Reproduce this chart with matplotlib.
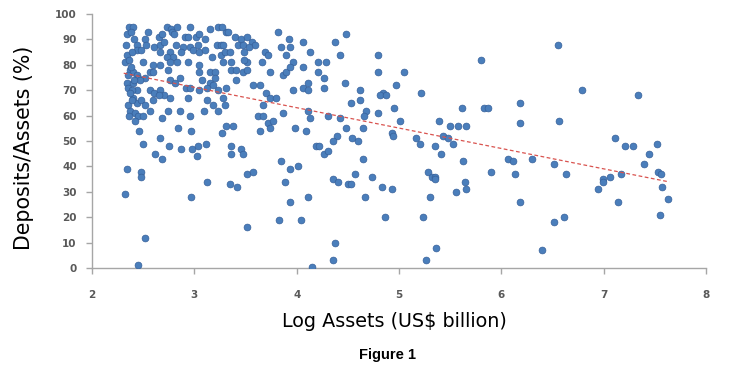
#used to plot graphs
import matplotlib
matplotlib.use('Agg')
import matplotlib.pyplot as plt
import numpy as np

#scatter points, grouped by area of the plot
#log assets (x) and deposits/assets in % (y)
x_small_top = [2.36, 2.40, 2.34, 2.55, 2.73, 2.77, 2.83, 2.96, 3.15, 3.23, 3.31,
               2.65, 2.68, 2.78, 2.80, 2.91, 2.94, 3.02, 3.05, 3.10, 2.52,
               2.33, 2.44, 2.53, 2.61, 2.66, 2.70, 2.82, 2.89, 2.96, 3.04, 3.22, 3.26, 2.44, 2.48,
               2.34, 2.39, 2.66, 2.76, 2.79, 2.87, 2.99, 3.05, 3.10, 2.73, 3.26, 3.17,
               2.32, 2.50, 2.60, 2.66, 2.76, 2.83, 2.94, 3.05, 3.28,
               2.37, 2.40, 2.44, 2.57, 2.60, 2.74, 3.05, 3.15, 3.20, 2.45,
               2.52, 2.76, 2.81, 2.86, 3.07, 3.15, 3.20, 2.34, 2.40, 2.47, 2.92, 2.96,
               2.35, 2.44, 2.39, 2.57, 2.61, 2.66, 2.70, 3.05, 3.12, 3.18, 3.31, 3.23,
               2.40, 2.44, 2.48, 2.60, 2.65, 2.76, 2.94, 3.12, 3.18, 2.35, 2.52,
               2.37, 2.42, 2.45, 2.50, 2.57, 2.74, 2.86, 3.09, 3.23, 2.68, 2.96,
               2.84, 2.97, 3.31,
               2.36, 2.38, 2.35, 2.41, 2.37, 2.39, 2.36, 2.42, 2.38, 2.41]
y_small_top = [95, 95, 92, 93, 95, 94, 95, 95, 94, 95, 93,
               91, 92, 93, 92, 91, 91, 91, 92, 90, 90,
               88, 88, 88, 87, 88, 89, 88, 87, 87, 88, 88, 88, 86, 86,
               84, 85, 85, 85, 83, 85, 86, 85, 86, 83, 84, 83,
               81, 81, 80, 80, 81, 81, 81, 80, 81,
               78, 77, 76, 77, 77, 78, 77, 77, 77, 75,
               75, 74, 73, 75, 74, 73, 75, 73, 73, 74, 71, 71,
               71, 70, 70, 70, 69, 70, 68, 70, 71, 72, 71, 70,
               67, 65, 66, 66, 68, 67, 67, 66, 64, 64, 64,
               62, 61, 60, 60, 62, 62, 62, 62, 62, 59, 60,
               55, 54, 56,
               82, 79, 76, 74, 69, 66, 60, 58, 93, 90]

x_mid_top = [3.27, 3.33, 3.40, 3.46, 3.51, 3.56, 3.59, 3.82, 3.92, 4.06, 4.48, 4.37,
             3.28, 3.43, 3.48, 3.53, 3.30, 3.35, 3.49, 3.69, 3.72, 3.85, 3.93, 3.90, 4.13, 4.42,
             3.36, 3.51, 3.49, 3.66, 3.96, 4.21, 4.29,
             3.36, 3.41, 3.48, 3.51, 3.74, 3.87, 3.90, 3.93, 4.06, 4.21, 4.27,
             3.41, 3.57, 3.64, 4.11, 4.47, 3.96, 4.06, 4.11, 4.27,
             3.28, 3.70, 3.74, 3.80, 3.67, 3.30, 3.87, 4.11, 4.13, 4.31,
             3.62, 3.67, 3.72, 3.77, 3.38, 3.74, 3.98, 4.09, 4.39, 4.48]
y_mid_top = [95, 93, 91, 90, 91, 89, 88, 93, 90, 89, 92, 89,
             88, 88, 88, 87, 85, 85, 85, 85, 84, 87, 87, 84, 85, 84,
             81, 81, 82, 81, 81, 81, 81,
             78, 78, 77, 78, 77, 76, 77, 79, 79, 77, 75,
             74, 72, 72, 73, 73, 70, 71, 70, 71,
             67, 69, 67, 67, 64, 64, 61, 62, 59, 60,
             60, 60, 57, 58, 56, 55, 55, 54, 52, 55]

x_low = [2.46, 2.50, 2.66, 2.75, 2.62, 2.68, 2.87, 2.98, 3.03, 3.04, 3.11, 3.27,
         2.34, 2.48, 2.48, 3.12, 2.32, 2.97, 2.52, 2.45,
         3.64, 3.36, 3.36, 3.46, 3.48, 3.85, 3.93, 4.01, 3.51, 3.57, 3.89,
         4.19, 4.22, 4.27, 4.31, 4.35, 4.35, 4.40, 4.50, 3.35, 3.42,
         4.11, 3.93, 3.83, 4.04, 3.51, 4.37, 4.35, 4.15]
y_low = [54, 49, 51, 48, 45, 43, 47, 47, 44, 48, 49, 53,
         39, 38, 36, 34, 29, 28, 12, 1,
         54, 48, 45, 47, 45, 42, 39, 40, 37, 38, 34,
         48, 48, 45, 46, 50, 35, 34, 33, 33, 32,
         28, 26, 19, 19, 16, 10, 3, 0.4]

x_large = [4.79, 4.79, 5.05, 4.62, 4.62, 4.53, 4.84, 4.81, 4.87, 4.97, 5.21,
           4.68, 4.66, 4.79, 4.95, 5.61, 5.01, 4.42, 5.39, 5.50, 5.58, 5.65,
           4.65, 4.93, 4.94, 4.54, 4.60, 5.17, 5.20, 5.35, 5.41, 5.43, 5.48, 5.53,
           5.62, 4.65, 4.57, 4.74, 4.53, 4.83, 4.93, 4.67,
           5.28, 5.32, 5.35, 5.35, 5.64, 5.65, 5.56, 5.30, 4.86, 5.23, 5.36, 5.26]
y_large = [84, 77, 77, 70, 66, 65, 69, 68, 68, 72, 69,
           62, 60, 61, 63, 63, 58, 59, 58, 56, 56, 56,
           55, 53, 52, 51, 50, 51, 49, 48, 45, 52, 51, 49,
           42, 43, 37, 36, 33, 32, 31, 28,
           38, 36, 36, 35, 34, 31, 30, 28, 20, 20, 8, 3]

x_largest = [6.55, 5.80, 6.79, 6.18, 5.83, 5.87, 6.56, 6.18, 6.06, 6.11,
             6.30, 6.51, 6.63, 5.90, 6.13, 6.18, 6.51, 6.61, 6.40,
             7.33, 7.11, 7.21, 7.29, 7.52, 7.44, 7.39, 7.53, 7.56,
             7.57, 7.17, 7.06, 6.99, 6.99, 6.94, 7.14, 7.63, 7.55]
y_largest = [88, 82, 70, 65, 63, 63, 58, 57, 43, 42,
             43, 41, 37, 38, 37, 26, 18, 20, 7,
             68, 51, 48, 48, 49, 45, 41, 38, 37,
             32, 37, 36, 35, 34, 31, 26, 27, 21]

#linear trend line as drawn in the figure
trend_x = [2.31, 7.64]
trend_intercept = 95.25
trend_slope = -8.03

x_ticks = [2, 3, 4, 5, 6, 7, 8]
y_ticks = [0, 10, 20, 30, 40, 50, 60, 70, 80, 90, 100]

log_assets = np.array(x_small_top + x_mid_top + x_low + x_large + x_largest)
deposits = np.array(y_small_top + y_mid_top + y_low + y_large + y_largest)

fig = plt.figure(figsize=(7.49, 3.8), dpi=100)
ax = fig.add_axes([0.1228, 0.2947, 0.82, 0.6683])

ax.scatter(log_assets, deposits, s=24, color='#4a7ebb', edgecolors='#36609a',
           linewidths=0.5, zorder=3)

tx = np.array(trend_x)
ax.plot(tx, trend_intercept + trend_slope * tx, color='#d9534f', lw=0.9,
        dashes=(3, 2), zorder=4)

ax.set_xlim(2, 8)
ax.set_ylim(0, 100)
ax.set_xticks(x_ticks)
ax.set_yticks(y_ticks)

#excel style axes
for side in ['top', 'right']:
    ax.spines[side].set_visible(False)
for side in ['left', 'bottom']:
    ax.spines[side].set_color('#a6a6a6')
    ax.spines[side].set_linewidth(1.0)
ax.tick_params(axis='both', colors='#a6a6a6', length=4, width=1, direction='out')
ax.tick_params(axis='x', pad=12)
ax.tick_params(axis='y', pad=7)
for lab in ax.get_xticklabels() + ax.get_yticklabels():
    lab.set_color('#595959')
    lab.set_fontweight('bold')
    lab.set_fontsize(7.5)

label_font = ['Liberation Sans Narrow', 'DejaVu Sans']
ax.set_xlabel('Log Assets (US$ billion)', family=label_font, fontsize=13.8)
ax.set_ylabel('Deposits/Assets (%)', family=label_font, fontsize=14.8)
ax.xaxis.label.set_va('center')
ax.yaxis.label.set_va('center')
ax.xaxis.set_label_coords(0.492, -0.209)
ax.yaxis.set_label_coords(-0.111, 0.472)

fig.text(0.518, 0.065, 'Figure 1', family=['Liberation Sans', 'DejaVu Sans'],
         fontweight='bold', fontsize=10.5, ha='center', va='center')

plt.savefig('out.png', dpi=100)
